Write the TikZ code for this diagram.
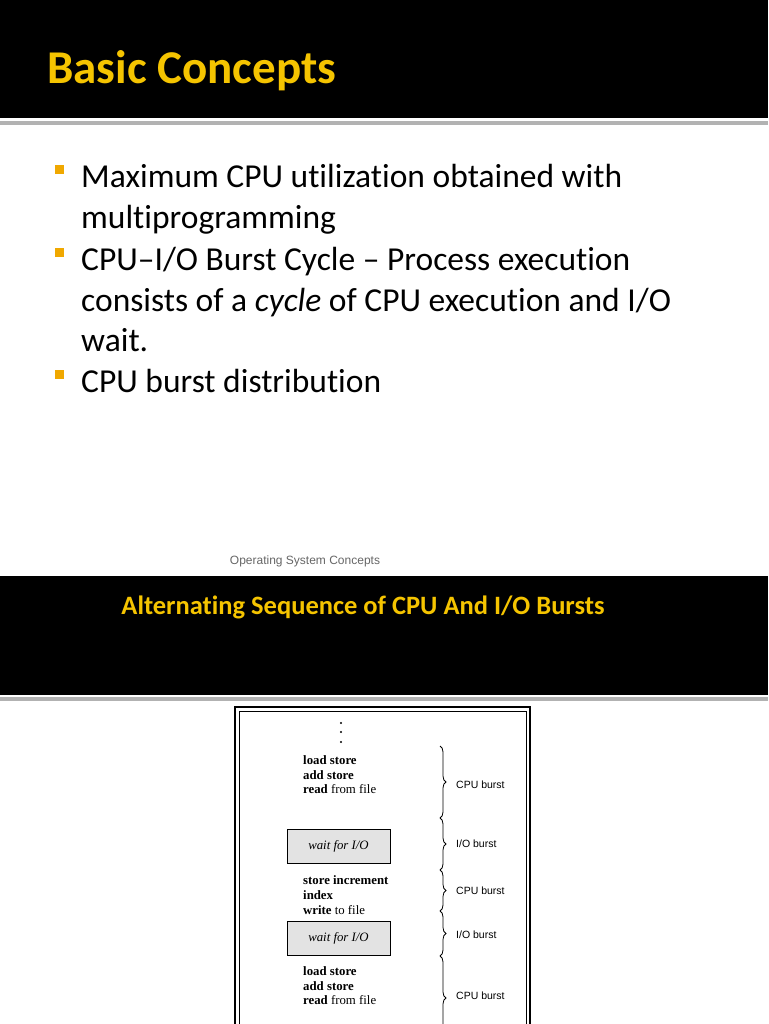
\documentclass[tikz,border=0pt]{standalone}
\usepackage{fontspec}
\setmainfont[Ligatures=NoCommon]{Carlito}
\newfontfamily\arialf{Liberation Sans}
\newfontfamily\timesf{Liberation Serif}
\usetikzlibrary{decorations.pathreplacing}
\definecolor{gold}{HTML}{F5C400}
\definecolor{bul}{HTML}{F0A800}
\begin{document}
\begin{tikzpicture}[x=1pt,y=-1pt,
  bullet/.style={fill=bul,minimum size=9pt,inner sep=0pt},
  btext/.style={anchor=base west,font=\fontsize{33.5}{30}\selectfont,inner sep=0pt},
  code/.style={anchor=base west,font=\timesf\fontsize{12.8}{12}\selectfont,inner sep=0pt},
  lbl/.style={anchor=west,font=\arialf\fontsize{10.5}{10}\selectfont,inner sep=0pt},
  waitbox/.style={draw=black,fill=gray!22,minimum width=103pt,minimum height=34pt,inner sep=0pt,font=\timesf\itshape\fontsize{12.8}{12}\selectfont},
  br/.style={decorate,decoration={brace,amplitude=6pt},line width=0.8pt}]
\useasboundingbox (0,0) rectangle (768,1024);
\fill[black] (0,0) rectangle (768,118);
\fill[gray!60] (0,121) rectangle (768,125);
\node[anchor=base west,text=gold,font=\bfseries\fontsize{47}{47}\selectfont,inner sep=0pt] (t1) at (47,84) {Basic Concepts};
\foreach \y/\n in {178/b1,260/b2,382/b3}{\node[bullet] (\n) at (59,\y-8) {};}
\node[btext] (l1) at (81,188) {Maximum CPU utilization obtained with};
\node[btext] (l2) at (81,229) {multiprogramming};
\node[btext] (l3) at (81,270) {CPU–I/O Burst Cycle – Process execution};
\node[btext] (l4) at (81,311) {consists of a \textit{cycle} of CPU execution and I/O};
\node[btext] (l5) at (81,351) {wait.};
\node[btext] (l6) at (81,392) {CPU burst distribution};
\node[anchor=base,text=gray!80!black,font=\arialf\fontsize{12}{12}\selectfont,inner sep=0pt] (foot) at (305,564) {Operating System Concepts};
\fill[black] (0,576) rectangle (768,695);
\fill[gray!60] (0,697) rectangle (768,701);
\node[anchor=base,text=gold,font=\bfseries\fontsize{26.5}{26}\selectfont,inner sep=0pt] (t2) at (363,614) {Alternating Sequence of CPU And I/O Bursts};
\draw[line width=1.5pt] (235,707) rectangle (530,1030);
\draw[line width=0.6pt] (239,711) rectangle (526,1030);
\foreach \y in {723,732,742}{\fill (341,\y) circle (1.2pt);}
\node[code] (c1) at (303,764) {\textbf{load store}};
\node[code] (c2) at (303,779) {\textbf{add store}};
\node[code] (c3) at (303,793) {\textbf{read} from file};
\node[waitbox] (w1) at (338.5,846) {wait for I/O};
\node[code] (c4) at (303,884) {\textbf{store increment}};
\node[code] (c5) at (303,899) {\textbf{index}};
\node[code] (c6) at (303,914) {\textbf{write} to file};
\node[waitbox] (w2) at (338.5,938.5) {wait for I/O};
\node[code] (c7) at (303,975) {\textbf{load store}};
\node[code] (c8) at (303,990) {\textbf{add store}};
\node[code] (c9) at (303,1004) {\textbf{read} from file};
\coordinate (p0) at (440,746);
\coordinate (p1) at (440,818);
\coordinate (p2) at (440,870);
\coordinate (p3) at (440,911);
\coordinate (p4) at (440,956);
\coordinate (p5) at (440,1040);
\draw[br] (p0) -- (p1); \draw[br] (p1) -- (p2); \draw[br] (p2) -- (p3); \draw[br] (p3) -- (p4); \draw[br] (p4) -- (p5);
\node[lbl] (k1) at (456,785) {CPU burst};
\node[lbl] (k2) at (456,844) {I/O burst};
\node[lbl] (k3) at (456,891) {CPU burst};
\node[lbl] (k4) at (456,935) {I/O burst};
\node[lbl] (k5) at (456,996) {CPU burst};
\end{tikzpicture}
\end{document}
